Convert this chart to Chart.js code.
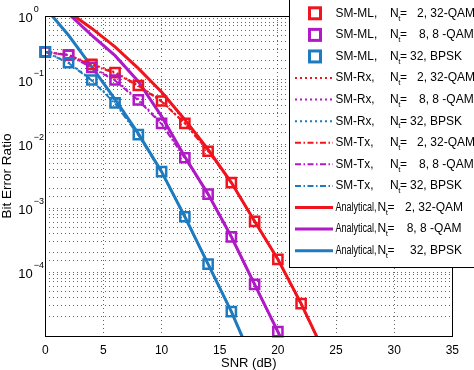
<!DOCTYPE html>
<html><head><meta charset="utf-8">
<script src="https://cdn.jsdelivr.net/npm/chart.js@4/dist/chart.umd.min.js"></script>
<style>html,body{margin:0;padding:0;background:#fff;}#wrap{width:474px;height:370px;position:relative;}</style>
</head><body><div id="wrap"><canvas id="c" width="474" height="370"></canvas></div>
<script>
// ---- data ----
const snrSim = [0,2,4,6,8,10,12,14,16,18,20,22,24];
const mlRed    = [0.275,0.246,0.175,0.13,0.082,0.047,0.021,0.0077,0.0025,6.2e-4,1.58e-4,3.2e-5,null];
const mlPurple = [0.275,0.246,0.158,0.1,0.049,0.021,0.0061,0.00165,3.55e-4,6.4e-5,1.17e-5,null,null];
const mlBlue   = [0.275,0.186,0.1,0.044,0.014,0.0037,7.3e-4,1.33e-4,2.4e-5,null,null,null,null];
const rxRed    = [0.275,0.246,0.178,0.132,0.083,0.047,0.021,0.0078,0.0025,6.2e-4,1.58e-4,3.2e-5,5.5e-6];
const rxPurple = [0.275,0.246,0.16,0.1,0.05,0.021,0.0062,0.00166,3.55e-4,6.4e-5,1.17e-5,2e-6,null];
const rxBlue   = [0.275,0.188,0.1,0.045,0.0142,0.0037,7.3e-4,1.33e-4,2.4e-5,3.5e-6,null,null,null];
const txRed    = [0.275,0.244,0.172,0.128,0.081,0.046,0.021,0.0077,0.0025,6.1e-4,1.57e-4,3.1e-5,5.4e-6];
const txPurple = [0.275,0.243,0.156,0.098,0.048,0.0205,0.006,0.00164,3.5e-4,6.3e-5,1.15e-5,2e-6,null];
const txBlue   = [0.275,0.184,0.098,0.043,0.0138,0.0036,7.2e-4,1.32e-4,2.4e-5,3.4e-6,null,null,null];
const anSnrRed    = [2.5,4,6,8,10,12,14,16,18,20,22,24];
const anRed       = [1.0,0.64,0.33,0.152,0.065,0.024,0.0082,0.0025,6.2e-4,1.58e-4,3.2e-5,5.5e-6];
const anSnrPurple = [2.2,4,6,8,10,12,14,16,18,20,22];
const anPurple    = [1.0,0.5,0.24,0.095,0.027,0.0063,0.00165,3.55e-4,6.4e-5,1.17e-5,2e-6];
const anSnrBlue   = [0.6,2,4,6,8,10,12,14,16,18];
const anBlue      = [1.0,0.5,0.16,0.05,0.0145,0.0037,7.3e-4,1.33e-4,2.4e-5,3.5e-6];
const xTicks = [0,5,10,15,20,25,30,35];
const yTickExponents = [0,-1,-2,-3,-4];
const legendMethods = ['SM-ML,','SM-Rx,','SM-Tx,','Analytical,'];
const legendConfigs = ['2, 32-QAM','8, 8 -QAM','32, BPSK'];
const xTitle = 'SNR (dB)';
const yTitle = 'Bit Error Ratio';

// ---- styles ----
const RED='#f0141e', PURPLE='#b01ac6', BLUE='#1f7bbf';
const COLORS=[RED,PURPLE,BLUE];
const DASH_RX=[2,3], DASH_TX=[6,2.5,1.5,2.5];
const FONT="'Liberation Sans', Arial, Helvetica, sans-serif";

function pts(xs, ys){ return xs.map((x,i)=>({x:x, y:ys[i]})); }
function mlSet(ys,c){ return {data:pts(snrSim,ys), showLine:false, pointStyle:'rect', pointRadius:6.5, pointHoverRadius:6.5,
  pointBorderWidth:2.5, pointBorderColor:c, pointBackgroundColor:'rgba(0,0,0,0)', borderColor:c, clip:false}; }
function lnSet(xs,ys,c,dash,w){ return {data:pts(xs,ys), showLine:true, pointRadius:0, borderColor:c, borderWidth:w,
  borderDash:dash, tension:0, spanGaps:false, fill:false, clip:0}; }

const datasets = [
  mlSet(mlBlue,BLUE), mlSet(mlPurple,PURPLE), mlSet(mlRed,RED),
  lnSet(snrSim,txBlue,BLUE,DASH_TX,2), lnSet(snrSim,txPurple,PURPLE,DASH_TX,2), lnSet(snrSim,txRed,RED,DASH_TX,2),
  lnSet(snrSim,rxBlue,BLUE,DASH_RX,2), lnSet(snrSim,rxPurple,PURPLE,DASH_RX,2), lnSet(snrSim,rxRed,RED,DASH_RX,2),
  lnSet(anSnrBlue,anBlue,BLUE,[],3), lnSet(anSnrPurple,anPurple,PURPLE,[],3), lnSet(anSnrRed,anRed,RED,[],3)
];

const decor = {
  id:'decor',
  afterDatasetsDraw(chart){
    const ctx=chart.ctx, a=chart.chartArea;
    ctx.save();
    ctx.strokeStyle='#000'; ctx.lineWidth=1; ctx.setLineDash([]);
    ctx.strokeRect(Math.round(a.left)+0.5, Math.round(a.top)+0.5, Math.round(a.right-a.left), Math.round(a.bottom-a.top));
    ctx.restore();
  },
  afterDraw(chart){
    const ctx=chart.ctx, ys=chart.scales.y;
    ctx.save();
    ctx.fillStyle='#000';
    yTickExponents.forEach(k=>{
      const py=ys.getPixelForValue(Math.pow(10,k));
      ctx.font='13px '+FONT; ctx.textAlign='left'; ctx.textBaseline='middle';
      ctx.fillText('10',18.3,py+2);
      ctx.font='9px '+FONT;
      ctx.fillText(k===0?'0':'\u2212'+Math.abs(k),33.8,py-6);
    });
    ctx.font='13px '+FONT; ctx.textAlign='center'; ctx.textBaseline='middle';
    const a=chart.chartArea;
    ctx.fillText(xTitle,(a.left+a.right)/2,363);
    ctx.save(); ctx.translate(7.5,(a.top+a.bottom)/2); ctx.rotate(-Math.PI/2);
    ctx.font='13.5px '+FONT; ctx.fillText(yTitle,0,0); ctx.restore();
    // legend
    const lx=289.5, ly=-2, lw=200, lh=269.5;
    ctx.fillStyle='#fff'; ctx.fillRect(lx,ly,lw,lh);
    ctx.strokeStyle='#000'; ctx.lineWidth=1; ctx.strokeRect(lx,ly,lw,lh);
    const methodW=[41.7,39,38,41];
    const valX=[[417,419,410],[417,419,410],[417,419,410],[405,406.7,410]];
    for(let i=0;i<12;i++){
      const m=Math.floor(i/3), c=i%3, y=13.3+21.58*i, col=COLORS[c];
      ctx.setLineDash([]);
      if(m===0){
        ctx.strokeStyle=col; ctx.lineWidth=3;
        ctx.strokeRect(315-5.5,y-5.5,11,11);
      } else {
        ctx.strokeStyle=col; ctx.lineWidth=m===3?3:2;
        ctx.setLineDash(m===1?DASH_RX:(m===2?DASH_TX:[]));
        ctx.beginPath(); ctx.moveTo(295,y); ctx.lineTo(333,y); ctx.stroke();
        ctx.setLineDash([]);
      }
      ctx.fillStyle='#000'; ctx.textAlign='left'; ctx.textBaseline='middle';
      ctx.font='12px '+FONT;
      ctx.fillText(legendMethods[m],335.5,y,methodW[m]);
      const xN = m===3?377.5:390;
      ctx.fillText('N',xN,y);
      ctx.font='8px '+FONT; ctx.fillText('t',xN+8.3,y+5);
      ctx.font='12px '+FONT; ctx.fillText('=',xN+10,y);
      ctx.fillText(legendConfigs[c],valX[m][c],y);
    }
    ctx.restore();
  }
};

new Chart(document.getElementById('c'),{
  type:'line',
  data:{datasets:datasets},
  options:{
    responsive:false, animation:false, devicePixelRatio:1,
    layout:{padding:{top:16,right:21.7,left:0,bottom:0}},
    plugins:{legend:{display:false}, tooltip:{enabled:false}},
    scales:{
      x:{type:'linear', min:0, max:35,
        afterFit(s){ s.height=34; },
        afterBuildTicks(s){ s.ticks = xTicks.map(v=>({value:v})); },
        ticks:{font:{size:12,family:FONT}, color:'#000', padding:7, maxRotation:0, autoSkip:false},
        grid:{color:'rgba(0,0,0,0.6)', lineWidth:1, drawTicks:false},
        border:{display:false, dash:[1,3]}
      },
      y:{type:'logarithmic', min:1e-5, max:1,
        afterFit(s){ s.width=45.3; },
        ticks:{display:false},
        grid:{color:'rgba(0,0,0,0.6)', lineWidth:1, drawTicks:false},
        border:{display:false, dash:[1,3]}
      }
    }
  },
  plugins:[decor]
});
</script></body></html>
